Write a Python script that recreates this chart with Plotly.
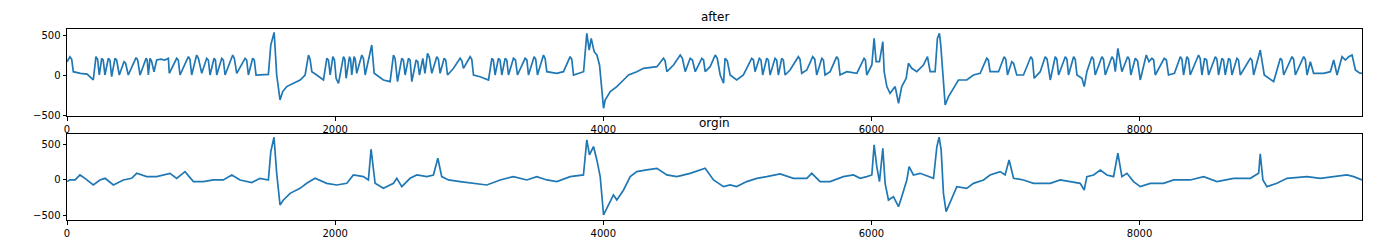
import plotly.graph_objects as go

# "after" series in segments (sample index, value)
after_x_a = [0, 22, 35, 47, 100, 150, 196, 216, 228, 241, 259, 270, 283, 308, 320, 333, 358, 370, 390, 425, 437, 457, 515,
             527, 545, 590, 598, 607, 619, 630, 649, 669, 700, 730, 756, 763, 818, 830, 843, 905, 917, 930, 967, 980, 1005,
             1042, 1054, 1067, 1097, 1107, 1117, 1154, 1166, 1179, 1236, 1248, 1266, 1328, 1340, 1353, 1385, 1397, 1410,
             1460, 1502]
after_y_a = [169, 231, 200, 45, 25, 15, -58, 231, 200, 4, 211, 190, 4, 211, 190, -17, 211, 190, 4, 169, 150, 4, 219,
             190, 4, 211, 190, 4, 211, 180, 45, 190, 200, 190, 211, 25, 211, 190, 4, 231, 200, 4, 252, 210, 25,
             211, 190, 4, 211, 190, 4, 211, 190, 4, 252, 210, 25, 211, 190, 4, 211, 190, 4,
             12, 12]
after_x_b = [1520, 1545, 1564, 1589, 1609, 1639, 1689, 1739, 1776, 1801, 1813, 1826, 1863, 1913, 1938, 1950, 1963, 1983,
             1995, 2007, 2025, 2062, 2072, 2082, 2107, 2115, 2124, 2141, 2150, 2161, 2199, 2211, 2224, 2273, 2291, 2360,
             2410, 2435, 2447, 2465]
after_y_b = [376, 533, 4, -306, -202, -140, -99, -58, 4, 252, 200, 45, 4, -58, 211, 190, 4, 231,
             190, -37, -99, 231, 200, -37, 231, 200, 4, 231, 200, 25, 252, 210, 4, 376, 25, -58,
             -78, 252, 210, -78]
after_x_c = [2497, 2509, 2522, 2547, 2559, 2572, 2604, 2616, 2629, 2654, 2670, 2689, 2703, 2721, 2758, 2770, 2783, 2813,
             2825, 2838, 2883, 2932, 2945, 2957, 3007, 3019, 3032, 3081, 3144, 3169, 3180, 3193, 3218, 3230, 3243, 3268,
             3280, 3293, 3330, 3345, 3360, 3417, 3430, 3442, 3484, 3496, 3509, 3554, 3566, 3579, 3653, 3703, 3753, 3765,
             3778, 3853]
after_y_c = [211, 190, 4, 211, 190, -78, 190, 170, 4, 211, 25, 273, 220, 25, 231, 200, 25, 211,
             190, 4, 87, 211, 180, 87, 231, 200, 4, -17, -58, 211, 190, 4, 211, 190, 4, 211,
             190, 4, 211, 190, 4, 211, 190, 4, 231, 200, 4, 252, 210, 45, 25, 45, 231, 200,
             4, 45]
after_x_d = [3877, 3895, 3910, 3932, 3952, 3972, 4002, 4014, 4052, 4101, 4151, 4188, 4250, 4300, 4400, 4449, 4461, 4474,
             4524, 4574, 4590, 4611, 4648, 4665, 4686, 4735, 4748, 4760, 4797, 4835, 4850, 4872, 4897]
after_y_d = [520, 314, 458, 293, 252, 128, -409, -306, -202, -140, -58, 4, 45, 87, 107, 211, 180, 45,
             128, 252, 210, 45, 211, 190, 45, 211, 190, 45, 107, 252, 210, 4, -99]
after_x_e = [4908, 4925, 4946, 4995, 5045, 5107, 5120, 5132, 5164, 5176, 5189, 5219, 5231, 5244, 5281, 5293, 5306, 5331,
             5343, 5356, 5393, 5455, 5467, 5480, 5518, 5562, 5577, 5592, 5630, 5642, 5654, 5692, 5741, 5753, 5766, 5816,
             5891, 5945, 5955, 5965]
after_y_e = [211, 180, 4, -58, 4, 211, 190, 45, 211, 190, 4, 211, 190, 4, 211, 190, 4, 211,
             190, 4, 66, 231, 200, 25, 66, 231, 200, 4, 211, 190, 4, 45, 231, 200, 4, 45,
             25, 211, 190, 4]
after_x_f = [6003, 6020, 6035, 6060, 6085, 6095, 6115, 6139, 6177, 6202, 6226, 6259, 6276, 6301, 6338, 6388, 6418, 6438,
             6475, 6492, 6507, 6517, 6532, 6550, 6575, 6612, 6649, 6711, 6761, 6811, 6860, 6872, 6885, 6948, 6990, 7002,
             7015, 7047, 7060, 7084, 7134, 7189, 7201, 7214, 7259]
after_y_f = [128, 458, 169, 169, 417, 45, -140, -223, -140, -347, -140, -37, 149, 87, 45, 128, 231, 45,
             45, 458, 520, 376, 4, -368, -264, -161, -58, -58, 4, 25, 211, 190, 45, 45, 231, 200,
             4, 169, 150, 4, 4, 231, 200, -37, 45]
after_x_g = [7296, 7310, 7334, 7371, 7383, 7396, 7446, 7458, 7470, 7508, 7520, 7533, 7570, 7587, 7607, 7644, 7656, 7669,
             7719, 7731, 7744, 7794, 7806, 7819, 7838, 7868, 7911, 7923, 7935, 7968, 7985, 8005, 8050, 8070, 8092, 8105,
             8117, 8184, 8200, 8216, 8260, 8304, 8316, 8328, 8353, 8365, 8378]
after_y_g = [231, 200, -58, 231, 200, 4, 231, 200, 4, 231, 200, 4, -37, -140, 45, 231, 200, 4,
             231, 200, 4, 231, 200, 45, 335, 45, 231, 200, 4, 211, 180, -58, 252, 169, 211, 190,
             4, 211, 190, 4, 25, 231, 200, 4, 231, 200, 4]
after_x_h = [8440, 8452, 8465, 8485, 8500, 8515, 8565, 8577, 8589, 8614, 8626, 8639, 8664, 8676, 8689, 8726, 8738, 8751,
             8826, 8838, 8851, 8900, 8930, 9000, 9050, 9062, 9075, 9137, 9149, 9162, 9224, 9236, 9249, 9274, 9298, 9373,
             9423, 9448, 9473, 9510, 9535, 9560, 9585, 9610, 9640, 9659]
after_y_h = [252, 210, 4, 211, 190, 4, 231, 200, 4, 211, 190, 4, 211, 190, 4, 211, 190, 4,
             211, 190, 4, 314, 4, -78, 211, 190, 4, 231, 200, 4, 231, 200, 4, 169, 25, 25,
             45, 190, 4, 231, 190, 231, 252, 66, 30, 25]

after_x = after_x_a + after_x_b + after_x_c + after_x_d + after_x_e + after_x_f + after_x_g + after_x_h
after_y = after_y_a + after_y_b + after_y_c + after_y_d + after_y_e + after_y_f + after_y_g + after_y_h

# "orgin" series: sample index and value
orgin_x = [0, 22, 60, 97, 134, 196, 246, 284, 346, 420, 482, 520, 594, 669, 768, 818, 880, 943, 1017, 1092, 1166, 1229,
           1291, 1378, 1440, 1502, 1520, 1544, 1564, 1589, 1614, 1664, 1738, 1788, 1850, 1937, 2012, 2087, 2136, 2211,
           2248, 2268, 2298, 2360, 2435,
           2460, 2497, 2559, 2609, 2684, 2733, 2766, 2795, 2845, 2932, 3032, 3131, 3231, 3330, 3430, 3504, 3579, 3654,
           3753, 3852, 3877, 3897, 3927, 3952, 3977, 4002, 4039, 4076, 4101, 4151, 4201, 4250, 4325, 4400, 4474, 4549,
           4648, 4760, 4822, 4897,
           4946, 4995, 5070, 5145, 5219, 5319, 5418, 5518, 5555, 5617, 5692, 5791, 5866, 5916, 5965, 6003, 6020, 6040,
           6060, 6085, 6102, 6127, 6164, 6202, 6226, 6264, 6281, 6313, 6363, 6425, 6463, 6488, 6505, 6520, 6537, 6557,
           6587, 6637, 6711, 6761, 6836, 6885, 6960, 6997, 7027, 7060, 7134, 7209, 7283,
           7334, 7408, 7483, 7557, 7587, 7607, 7657, 7707, 7756, 7806, 7838, 7868, 7906, 7955, 8005, 8080, 8179, 8254,
           8378, 8478, 8577, 8701, 8826, 8888, 8900, 8920, 8950, 9025, 9099, 9249, 9348, 9448, 9547, 9597, 9659]
orgin_y = [-23, 0, 0, 70, 23, -70, 0, 23, -70, 0, 23, 93, 47, 47, 93, 23, 117, -23, -23, 0, 0, 70,
           0, -37, 23, 0, 397, 598, 93, -350, -280, -187, -117, -47, 23, -47, -70, -47, 70, 47,
           0, 430, -47, -117, -47,
           23, -93, 23, 70, 47, 70, 304, 47, 0, -23, -47, -70, 0, 47, 0, 47, 0, -23,
           47, 70, 560, 350, 467, 280, 47, -490, -350, -210, -280, -140, 47, 117, 140, 163, 70, 47,
           93, 163, 0, -93,
           -70, -93, -23, 23, 47, 84, 23, 23, 93, -23, -23, 47, 70, 23, 47, 70, 490, 187,
           -23, 444, -47, -280, -234, -374, -234, 0, 187, 70, 93, 47, 23, 467, 598, 420, -187, -444,
           -304, -93, -117, -47, 0, 70, 117, 70, 280, 23, 0, -47, -47,
           -47, 0, -23, -47, -140, 47, 70, 140, 70, 47, 374, 47, 93, -23, -93, -47, -47, 0,
           0, 47, -23, 23, 23, 93, 364, 0, -93, -47, 23, 47, 23, 47, 70, 47, 0]

x_ticks = [0, 2000, 4000, 6000, 8000]
y_ticks = [-500, 0, 500]
titles = ["after", "orgin"]

LINE = "#1f77b4"
FONT = "DejaVu Sans"

fig = go.Figure()
fig.add_trace(go.Scatter(x=after_x, y=after_y, mode="lines", line=dict(color=LINE, width=1.7),
                         xaxis="x", yaxis="y", showlegend=False))
fig.add_trace(go.Scatter(x=orgin_x, y=orgin_y, mode="lines", line=dict(color=LINE, width=1.7),
                         xaxis="x2", yaxis="y2", showlegend=False))

ax_common = dict(showline=True, linecolor="black", linewidth=1, mirror=True, showgrid=False, zeroline=False,
                 ticks="outside", ticklen=3.5, tickwidth=1, tickcolor="black",
                 tickfont=dict(family=FONT, size=10, color="black"))

fig.update_layout(
    width=1380, height=251,
    margin=dict(l=67, r=18, t=29, b=31),
    paper_bgcolor="white", plot_bgcolor="white",
    font=dict(family=FONT, size=10, color="black"),
    xaxis=dict(domain=[0, 1], range=[0, 9659], tickvals=x_ticks, anchor="y", **ax_common),
    yaxis=dict(domain=[0.5445, 1], range=[-505, 575], tickvals=y_ticks, anchor="x", **ax_common),
    xaxis2=dict(domain=[0, 1], range=[0, 9659], tickvals=x_ticks, anchor="y2", **ax_common),
    yaxis2=dict(domain=[0, 0.4503], range=[-560, 643], tickvals=y_ticks, anchor="x2", **ax_common),
    annotations=[
        dict(text=titles[0], xref="paper", yref="paper", x=0.5, y=1, yshift=3, xanchor="center", yanchor="bottom",
             showarrow=False, font=dict(family=FONT, size=12, color="black")),
        dict(text=titles[1], xref="paper", yref="paper", x=0.5, y=0.4503, yshift=2, xanchor="center", yanchor="bottom",
             showarrow=False, font=dict(family=FONT, size=12, color="black")),
    ],
)

fig.write_html("out.html")
